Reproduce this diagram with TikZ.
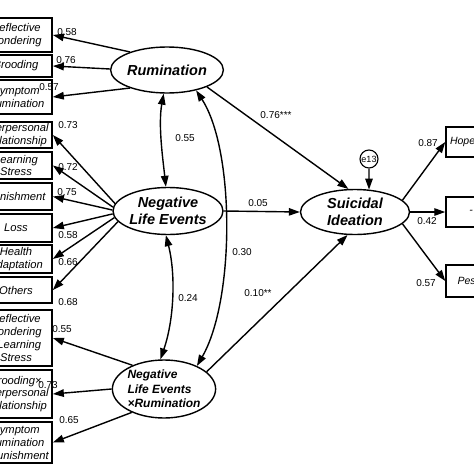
\documentclass[tikz,border=0pt]{standalone}
\usepackage{fontspec}
\setmainfont{Liberation Sans}
\usetikzlibrary{arrows.meta,shapes.geometric}
\begin{document}
\begin{tikzpicture}[x=1pt,y=-1pt,
  ind/.style={draw,line width=1.7pt,minimum width=72pt,inner sep=0pt,align=center,
    font=\itshape\fontsize{11.2}{12.8}\selectfont},
  rind/.style={draw,line width=1.5pt,minimum width=74pt,inner sep=0pt,align=center,
    font=\itshape\fontsize{10.5}{12.5}\selectfont},
  lat/.style={draw,ellipse,line width=1.4pt,inner sep=0pt,align=center,
    font=\bfseries\itshape\fontsize{14.5}{17}\selectfont},
  arr/.style={-{Triangle[length=11pt,width=7.5pt]},line width=1.4pt},
  darr/.style={{Triangle[length=11pt,width=7.5pt]}-{Triangle[length=11pt,width=7.5pt]},line width=1.4pt},
  lbl/.style={font=\fontsize{10}{12}\selectfont,inner sep=0pt}]
\useasboundingbox (0,0) rectangle (474,474);
\clip (0,0) rectangle (474,474);
\fill[white] (0,0) rectangle (474,474);

% left indicator boxes
\node[ind,minimum height=34pt] (b1) at (16,35) {Reflective\\Pondering};
\node[ind,minimum height=22pt] (b2) at (16,66) {Brooding};
\node[ind,minimum height=34pt] (b3) at (16,97) {Symptom\\Rumination};
\node[ind,minimum height=26pt] (b4) at (16,135) {Interpersonal\\Relationship};
\node[ind,minimum height=27pt] (b5) at (16,165.5) {Learning\\Stress};
\node[ind,minimum height=27pt] (b6) at (16,196.5) {Punishment};
\node[ind,minimum height=28pt] (b7) at (16,228) {Loss};
\node[ind,minimum height=28pt] (b8) at (16,259) {Health\\Adaptation};
\node[ind,minimum height=26pt] (b9) at (16,290) {Others};
\node[ind,minimum height=56pt] (b10) at (16,338) {Reflective\\Pondering\\×Learning\\Stress};
\node[ind,minimum height=48pt] (b11) at (16,394) {Brooding×\\Interpersonal\\Relationship};
\node[ind,minimum height=41pt] (b12) at (16,442.5) {Symptom\\Rumination\\×Punishment};

% right indicator boxes
\node[rind,minimum height=30pt] (r1) at (483,142) {Hopelessness};
\node[rind,minimum height=30pt] (r2) at (483,212) {-\hspace{24pt}};
\node[rind,minimum height=32pt] (r3) at (483,281) {Pessimism};

% latent variables
\node[lat,minimum width=110pt,minimum height=46pt] (rum) at (167,70) {Rumination};
\node[lat,minimum width=110pt,minimum height=47pt] (nle) at (168,211) {Negative\\Life Events};
\node[lat,minimum width=102pt,minimum height=58pt,align=left,
  font=\bfseries\itshape\fontsize{12}{14.5}\selectfont] (nlr) at (164,389) {Negative\\Life Events\\×Rumination};
\node[lat,minimum width=109pt,minimum height=45pt] (si) at (355,212) {Suicidal\\Ideation};
\node[draw,circle,line width=1.1pt,minimum size=18pt,inner sep=0pt,
  font=\fontsize{9}{10}\selectfont] (e13) at (369,159) {e13};

% loadings
\draw[arr] (rum.154) -- (b1.east);
\draw[arr] (rum.179) -- (b2.east);
\draw[arr] (rum.206) -- (b3.east);
\draw[arr] (nle.172) -- (b4.east);
\draw[arr] (nle.176) -- (b5.east);
\draw[arr] (nle.179) -- (b6.east);
\draw[arr] (nle.183) -- (b7.east);
\draw[arr] (nle.187) -- (b8.east);
\draw[arr] (nle.192) -- (b9.east);
\draw[arr] (nlr.143) -- (b10.east);
\draw[arr] (nlr.180) -- (b11.east);
\draw[arr] (nlr.216) -- (b12.east);
\draw[arr] (si.14) -- (r1.west);
\draw[arr] (si.0) -- (r2.west);
\draw[arr] (si.-14) -- (r3.west);

% structural paths
\draw[arr] (rum.-23) -- (si.106);
\draw[arr] (nle.east) -- (si.west);
\draw[arr] (nlr.22) -- (si.252);
\draw[arr] (e13) -- (si.58);

% correlations
\draw[darr] (rum.262) .. controls (158,125) and (163,160) .. (nle.95);
\draw[darr] (nle.265) .. controls (176,275) and (174,320) .. (nlr.97);
\draw[darr] (rum.-35) .. controls (235,150) and (235,300) .. (nlr.35);

% labels
\node[lbl] (l1) at (67,32) {0.58};
\node[lbl] (l2) at (66,60) {0.76};
\node[lbl] (l3) at (49,87) {0.57};
\node[lbl] (l4) at (68,125) {0.73};
\node[lbl] (l5) at (68,167) {0.72};
\node[lbl] (l6) at (67,192) {0.75};
\node[lbl] (l7) at (68,235) {0.58};
\node[lbl] (l8) at (68,262) {0.66};
\node[lbl] (l9) at (68,302) {0.68};
\node[lbl] (l10) at (62,329) {0.55};
\node[lbl] (l11) at (48,385) {0.73};
\node[lbl] (l12) at (69,420) {0.65};
\node[lbl] (m1) at (185,138) {0.55};
\node[lbl] (m2) at (276,115) {0.76***};
\node[lbl] (m3) at (258,203) {0.05};
\node[lbl] (m4) at (242,252) {0.30};
\node[lbl] (m5) at (188,298) {0.24};
\node[lbl] (m6) at (258,293) {0.10**};
\node[lbl] (q1) at (428,143) {0.87};
\node[lbl] (q2) at (427,221) {0.42};
\node[lbl] (q3) at (426,283) {0.57};
\end{tikzpicture}
\end{document}
